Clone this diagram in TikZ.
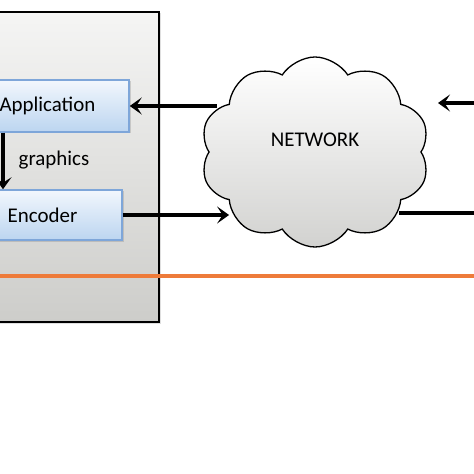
\documentclass[tikz,border=0pt]{standalone}
\usepackage{fontspec}
\setmainfont{Carlito}
\usetikzlibrary{shapes.symbols,arrows.meta,shadows}
\definecolor{boxblue}{HTML}{7EA6D9}
\definecolor{lightblueT}{HTML}{F2F7FD}
\definecolor{lightblueB}{HTML}{BCD5F0}
\definecolor{hostT}{HTML}{F5F5F4}
\definecolor{hostB}{HTML}{CDCDCA}
\definecolor{cloudB}{HTML}{D2D2D0}
\definecolor{orangeline}{HTML}{EE7B3A}
\tikzset{
  x=1bp, y=1bp,
  every node/.style={font=\fontsize{21}{24}\selectfont},
  hostbox/.style={draw=black, line width=1.2bp, top color=hostT, bottom color=hostB,
    drop shadow={opacity=0.25, shadow xshift=1.5bp, shadow yshift=-1.5bp}},
  bluebox/.style={draw=boxblue, line width=1.5bp, top color=lightblueT, bottom color=lightblueB,
    drop shadow={opacity=0.3, shadow xshift=1.5bp, shadow yshift=-1.5bp}, inner sep=0pt},
  netcloud/.style={cloud, cloud puffs=10, cloud puff arc=115, aspect=1.2, draw=black,
    line width=1.3bp, top color=white, bottom color=cloudB, inner sep=0pt},
  arr/.style={line width=4.5bp, -{Stealth[length=12bp, width=17bp, inset=5.5bp]}},
  plain/.style={line width=4.5bp},
  orangestroke/.style={draw=orangeline, line width=3.5bp}
}
\begin{document}
\begin{tikzpicture}
\useasboundingbox (0,0) rectangle (474,-474);
\node[hostbox, minimum width=179bp, minimum height=310bp, inner sep=0pt] (host) at (69.5,-167) {};
\node[bluebox, minimum width=163bp, minimum height=52bp] (app) at (47.5,-106) {Application};
\node[bluebox, minimum width=159bp, minimum height=50bp] (enc) at (42.5,-215) {Encoder};
\node[netcloud, minimum width=229bp, minimum height=190bp] (net) at (315,-152) {};
\node (nettext) at (315,-140) {NETWORK};
\node (gfx) at (54,-160) {graphics};
\coordinate (rin) at (474,-103);
\coordinate (rinend) at (438,-103);
\coordinate (rout) at (474,-213);
\draw[arr] (net.156 |- app.east) -- (app.east);
\draw[arr] (enc.east) -- (net.211 |- enc.east);
\draw[arr] (rin) -- (rinend);
\draw[plain] (net.-35 |- rout) -- (rout);
\draw[arr] (app.south -| 3,0) -- (enc.north -| 3,0);
\draw[orangestroke] (0,-276) -- (474,-276);
\end{tikzpicture}
\end{document}
